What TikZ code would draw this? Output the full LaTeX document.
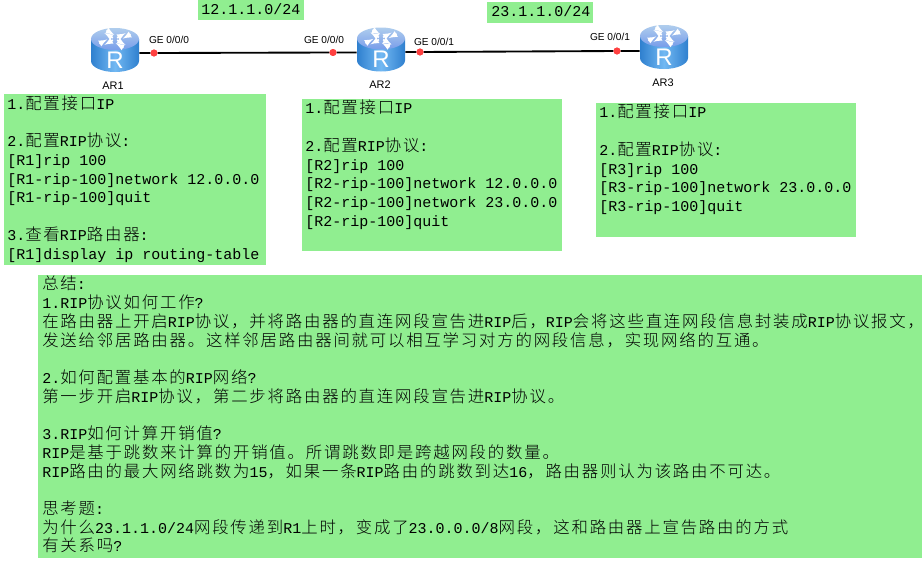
\documentclass[tikz,border=0pt]{standalone}
\usepackage{fontspec}
\setmonofont{Liberation Mono}
\setsansfont{Liberation Sans}
\newfontfamily\cjkfont[LetterSpace=11]{Noto Sans CJK SC Light}
\newcommand{\C}[1]{{\fontsize{12.3pt}{14.03pt}\cjkfont #1}}
\definecolor{boxgreen}{HTML}{90EE90}
\definecolor{routerdark}{HTML}{2F80CF}
\definecolor{routerlight}{HTML}{72B8F2}
\definecolor{routertop}{HTML}{8DB8E6}
\newcommand{\pxf}{\fontsize{11.25pt}{14.03pt}\selectfont\ttfamily}
\tikzset{
  x=0.75pt,y=-0.75pt,
  greenbox/.style={fill=boxgreen,draw=none},
  cmdtext/.style={anchor=north west,inner sep=0pt,align=left,font=\pxf},
  portlabel/.style={inner sep=0pt,font=\fontsize{7.6pt}{9pt}\selectfont\sffamily},
  routerlabel/.style={inner sep=0pt,font=\fontsize{8.2pt}{9pt}\selectfont\sffamily},
  routerbox/.style={minimum width=36pt,minimum height=33pt,inner sep=0pt,draw=none},
  portdot/.style={circle,fill=red!75!white,draw=none,minimum size=5.2pt,inner sep=0pt},
  link/.style={draw=black,line width=1.4pt},
  routericon/.pic={
    \begin{scope}[y=0.75pt]
    \path[left color=routerdark,right color=routerdark,middle color=routerlight]
      (-24,11) -- (-24,-11) arc[x radius=24,y radius=11,start angle=180,end angle=360] -- (24,11) -- cycle;
    \path[top color=routertop!70!white,bottom color=routertop!85!blue]
      (0,11) ellipse[x radius=24,y radius=11];
    \begin{scope}[shift={(0,11)},yscale=0.55]
      \foreach \a in {45,135,225,315}{
        \draw[white,line width=1.2pt,-latex,rotate=\a] (3,0) -- (15,0);
        \draw[white,line width=1.2pt,-latex,rotate=\a+90] (17,-5) -- (6,-5);
      }
    \end{scope}
    \node[white,inner sep=0pt,font=\fontsize{18pt}{18pt}\selectfont\sffamily] at (0,-10) {R};
    \end{scope}
  }
}
\begin{document}
\begin{tikzpicture}
\useasboundingbox (0,0) rectangle (922,561);
\fill[white] (0,0) rectangle (922,561);

% green panels
\fill[greenbox] (198,0) rectangle (304,20);
\fill[greenbox] (487,2) rectangle (593,23);
\fill[greenbox] (4,94) rectangle (266,265);
\fill[greenbox] (302,99) rectangle (562,251);
\fill[greenbox] (596,103) rectangle (856,237);
\fill[greenbox] (38,275) rectangle (922,558);

% routers
\node[routerbox] (ar1) at (115,50) {};
\node[routerbox] (ar2) at (381,49.5) {};
\node[routerbox] (ar3) at (664,47) {};
\node[portdot] (d1) at (154,53) {};
\node[portdot] (d2) at (333,52.5) {};
\node[portdot] (d3) at (420,52) {};
\node[portdot] (d4) at (617,51) {};
\draw[link] (ar1.east |- d1) -- (d1) -- (d2) -- (d2 -| ar2.west);
\draw[link] (ar2.east |- d3) -- (d3) -- (d4) -- (d4 -| ar3.west);
\path (ar1) pic {routericon};
\path (ar2) pic {routericon};
\path (ar3) pic {routericon};
\node[portdot] at (d1) {};
\node[portdot] at (d2) {};
\node[portdot] at (d3) {};
\node[portdot] at (d4) {};

% labels
\node[portlabel] (l1) at (169,40) {GE 0/0/0};
\node[portlabel] (l2) at (324,40) {GE 0/0/0};
\node[portlabel] (l3) at (434,42) {GE 0/0/1};
\node[portlabel] (l4) at (610,37) {GE 0/0/1};
\node[routerlabel] (n1) at (113,86) {AR1};
\node[routerlabel] (n2) at (380,85) {AR2};
\node[routerlabel] (n3) at (663,83) {AR3};

\node[cmdtext] (net1) at (201,3) {12.1.1.0/24};
\node[cmdtext] (net2) at (491,5) {23.1.1.0/24};

\node[cmdtext] (t1) at (7,95.5) {1.\C{配置接口}IP\\
\\
2.\C{配置}RIP\C{协议}:\\
{[}R1]rip 100\\
{[}R1-rip-100]network 12.0.0.0\\
{[}R1-rip-100]quit\\
\\
3.\C{查看}RIP\C{路由器}:\\
{[}R1]display ip routing-table};

\node[cmdtext] (t2) at (305,100) {1.\C{配置接口}IP\\
\\
2.\C{配置}RIP\C{协议}:\\
{[}R2]rip 100\\
{[}R2-rip-100]network 12.0.0.0\\
{[}R2-rip-100]network 23.0.0.0\\
{[}R2-rip-100]quit};

\node[cmdtext] (t3) at (599,104) {1.\C{配置接口}IP\\
\\
2.\C{配置}RIP\C{协议}:\\
{[}R3]rip 100\\
{[}R3-rip-100]network 23.0.0.0\\
{[}R3-rip-100]quit};

\node[cmdtext] (t4) at (42,276) {\C{总结}:\\
1.RIP\C{协议如何工作}?\\
\C{在路由器上开启}RIP\C{协议，并将路由器的直连网段宣告进}RIP\C{后，}RIP\C{会将这些直连网段信息封装成}RIP\C{协议报文，}\\
\C{发送给邻居路由器。这样邻居路由器间就可以相互学习对方的网段信息，实现网络的互通。}\\
\\
2.\C{如何配置基本的}RIP\C{网络}?\\
\C{第一步开启}RIP\C{协议，第二步将路由器的直连网段宣告进}RIP\C{协议。}\\
\\
3.RIP\C{如何计算开销值}?\\
RIP\C{是基于跳数来计算的开销值。所谓跳数即是跨越网段的数量。}\\
RIP\C{路由的最大网络跳数为}15\C{，如果一条}RIP\C{路由的跳数到达}16\C{，路由器则认为该路由不可达。}\\
\\
\C{思考题}:\\
\C{为什么}23.1.1.0/24\C{网段传递到}R1\C{上时，变成了}23.0.0.0/8\C{网段，这和路由器上宣告路由的方式}\\
\C{有关系吗}?};
\end{tikzpicture}
\end{document}
